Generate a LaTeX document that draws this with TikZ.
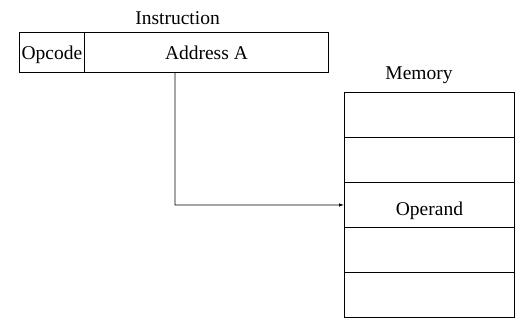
\documentclass[tikz,border=0pt]{standalone}
\usepackage{fontspec}
\setmainfont{Liberation Serif}
\usetikzlibrary{arrows.meta}
\begin{document}
\begin{tikzpicture}[x=1pt,y=-1pt,
  lbl/.style={font=\fontsize{19.5}{22}\selectfont, inner sep=0pt, anchor=base},
  cell/.style={draw=black, line width=0.9pt, minimum width=170pt, minimum height=45pt, inner sep=0pt, anchor=north west},
  box/.style={draw=black, line width=0.9pt, minimum height=40pt, inner sep=0pt, anchor=north west},
  conn/.style={draw=black, line width=0.8pt, -{Latex[length=5pt,width=3.5pt]}}]
\useasboundingbox (0,0) rectangle (528,326);
\node[lbl] (ititle) at (177.5,24.5) {Instruction};
\node[box, minimum width=65pt] (opc) at (19,32) {};
\node[box, minimum width=244pt] (addr) at (84,32) {};
\node[lbl] (opct) at (opc.center |- 0,60) {Opcode};
\node[lbl] (addrt) at (addr.center |- 0,60) {Address A};
\node[lbl] (mtitle) at (419,80) {Memory};
\node[cell] (m1) at (344,92) {};
\node[cell] (m2) at (344,137) {};
\node[cell] (m3) at (344,182) {};
\node[cell] (m4) at (344,227) {};
\node[cell] (m5) at (344,272) {};
\node[lbl] (opnd) at (m3.center |- 0,216) {Operand};
\coordinate (bend) at (175,205);
\draw[conn] (addr.south -| bend) -- (bend) -- (m3.west);
\end{tikzpicture}
\end{document}
